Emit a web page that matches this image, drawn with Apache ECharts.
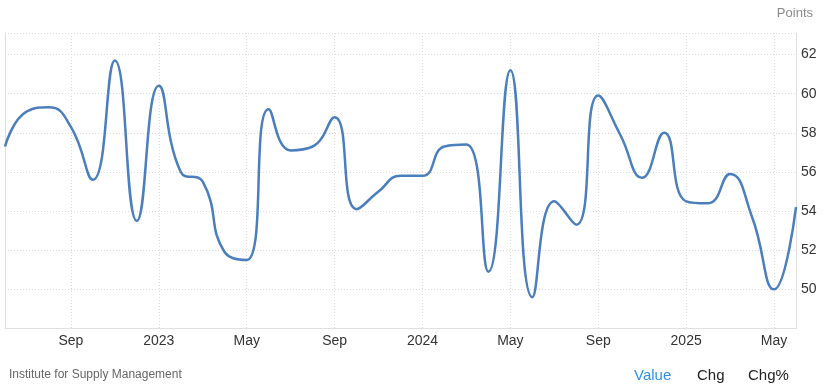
<!DOCTYPE html>
<html><head><meta charset="utf-8">
<script src="https://cdn.jsdelivr.net/npm/echarts@6/dist/echarts.min.js"></script>
<style>html,body{margin:0;padding:0;background:#fff;}#c{width:828px;height:390px;}</style>
</head><body><div id="c"></div>
<script>
const months = ['2022-06','2022-07','2022-08','2022-09','2022-10','2022-11','2022-12',
 '2023-01','2023-02','2023-03','2023-04','2023-05','2023-06','2023-07','2023-08','2023-09','2023-10','2023-11','2023-12',
 '2024-01','2024-02','2024-03','2024-04','2024-05','2024-06','2024-07','2024-08','2024-09','2024-10','2024-11','2024-12',
 '2025-01','2025-02','2025-03','2025-04','2025-05','2025-06'];
const values = [57.3,59.1,59.3,58.3,55.6,61.7,53.5,
 60.4,56.0,55.5,51.9,51.5,59.2,57.1,57.3,58.8,54.1,55.0,55.8,
 55.8,57.3,57.4,50.9,61.2,49.6,54.5,53.3,59.9,57.9,55.7,58.0,
 54.5,54.4,55.9,53.7,50.0,54.2];
const monthNames = ['Jan','Feb','Mar','Apr','May','Jun','Jul','Aug','Sep','Oct','Nov','Dec'];
const yTicks = [50,52,54,56,58,60,62];
const sourceText = 'Institute for Supply Management';
const unitText = 'Points';
const tabs = ['Value','Chg','Chg%'];

function tickLabel(cat){
  const [y,m] = cat.split('-').map(Number);
  return m===1 ? String(y) : monthNames[m-1];
}
const showIdx = (i) => (i-3)%4===0 && i>=3;

const chart = echarts.init(document.getElementById('c'));
chart.setOption({
  animation:false,
  grid:{left:5,right:32,top:33,bottom:61.5,containLabel:false},
  xAxis:{type:'category',data:months,boundaryGap:false,
    axisLine:{show:true,lineStyle:{color:'#e0e0e0',width:1}},
    axisTick:{show:false},
    axisLabel:{interval:(i)=>showIdx(i),formatter:(v)=>tickLabel(v),color:'#333',fontSize:14,fontFamily:'Liberation Sans, Arial',margin:6},
    splitLine:{show:true,interval:(i)=>showIdx(i),lineStyle:{color:'#dcdcdc',type:[1,2],width:1}}
  },
  yAxis:[{type:'value',position:'right',min:48,max:63.1,interval:2,
    axisLine:{show:true,lineStyle:{color:'#e0e0e0'}},
    axisTick:{show:false},
    axisLabel:{color:'#333',fontSize:14,fontFamily:'Liberation Sans, Arial',margin:5,
      formatter:(v)=> yTicks.includes(v)?String(v):''},
    splitLine:{show:true,lineStyle:{color:'#dcdcdc',type:[1,2],width:1}}
  },{type:'value',position:'left',min:48,max:63.1,
    axisLine:{show:true,lineStyle:{color:'#e0e0e0'}},axisTick:{show:false},axisLabel:{show:false},splitLine:{show:false}}],
  series:[{type:'line',data:values,smooth:0.5,symbol:'none',yAxisIndex:0,
    lineStyle:{color:'#4a7ebd',width:2.5}}],
  graphic:[
    {type:'text',right:15,top:7,style:{text:unitText,fill:'#8a8a8a',fontSize:13,fontFamily:'Liberation Sans, Arial'}},
    {type:'text',left:9,top:369,style:{text:sourceText,fill:'#666',fontSize:12,fontFamily:'Liberation Sans, Arial'}},
    {type:'text',left:634,top:368,style:{text:tabs[0],fill:'#2f8fe8',fontSize:15,fontFamily:'Liberation Sans, Arial'}},
    {type:'text',left:697,top:368,style:{text:tabs[1],fill:'#222',fontSize:15,fontFamily:'Liberation Sans, Arial'}},
    {type:'text',left:748,top:368,style:{text:tabs[2],fill:'#222',fontSize:15,fontFamily:'Liberation Sans, Arial'}}
  ]
});
</script></body></html>
